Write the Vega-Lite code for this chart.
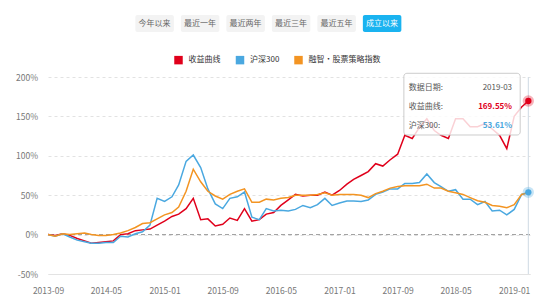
{
  "$schema": "https://vega.github.io/schema/vega-lite/v6.json",
  "padding": {"left": 15, "top": 15, "right": 5, "bottom": 5},
  "background": "#ffffff",
  "bounds": "flush",
  "spacing": 45,
  "config": {
    "view": {"stroke": null},
    "font": "Noto Sans CJK SC",
    "text": {"font": "Noto Sans CJK SC"}
  },
  "vconcat": [
    {
      "width": 357,
      "height": 17,
      "data": {"values": [
        {"b": "今年以来", "on": 0},
        {"b": "最近一年", "on": 0},
        {"b": "最近两年", "on": 0},
        {"b": "最近三年", "on": 0},
        {"b": "最近五年", "on": 0},
        {"b": "成立以来", "on": 1}
      ]},
      "encoding": {
        "x": {"field": "b", "type": "nominal", "sort": null, "axis": null,
              "scale": {"paddingInner": 0.154, "paddingOuter": 1, "align": 0.96}}
      },
      "layer": [
        {"mark": {"type": "rect", "cornerRadius": 2},
         "encoding": {"color": {"field": "on", "type": "nominal",
           "scale": {"domain": [0, 1], "range": ["#f3f3f3", "#1ab3f0"]}, "legend": null}}},
        {"mark": {"type": "text", "fontSize": 8, "baseline": "middle"},
         "encoding": {"text": {"field": "b"}, "color": {"field": "on", "type": "nominal",
           "scale": {"domain": [0, 1], "range": ["#666666", "#ffffff"]}, "legend": null}}}
      ],
      "resolve": {"scale": {"color": "independent"}}
    },
    {
      "width": 482,
      "height": 197,
      "data": {"values": [
        {"d": "2013-09", "r": 0, "h": 0, "z": 0},
        {"d": "2013-10", "r": -1, "h": -2, "z": -2},
        {"d": "2013-11", "r": 1, "h": 1, "z": 1},
        {"d": "2013-12", "r": -1, "h": -3, "z": 0},
        {"d": "2014-01", "r": -5, "h": -7, "z": 1},
        {"d": "2014-02", "r": -8, "h": -9, "z": 2},
        {"d": "2014-03", "r": -11, "h": -11, "z": 0},
        {"d": "2014-04", "r": -10, "h": -11, "z": -1},
        {"d": "2014-05", "r": -9, "h": -10, "z": -1},
        {"d": "2014-06", "r": -8, "h": -10, "z": 0},
        {"d": "2014-07", "r": 0, "h": -2, "z": 2},
        {"d": "2014-08", "r": 1, "h": -3, "z": 5},
        {"d": "2014-09", "r": 5, "h": 1, "z": 9},
        {"d": "2014-10", "r": 6, "h": 3.5, "z": 14},
        {"d": "2014-11", "r": 7, "h": 12, "z": 15},
        {"d": "2014-12", "r": 12, "h": 46, "z": 20},
        {"d": "2015-01", "r": 17, "h": 42, "z": 25},
        {"d": "2015-02", "r": 23, "h": 48, "z": 28},
        {"d": "2015-03", "r": 26, "h": 63, "z": 35},
        {"d": "2015-04", "r": 33, "h": 93, "z": 55},
        {"d": "2015-05", "r": 46, "h": 101, "z": 83},
        {"d": "2015-06", "r": 19, "h": 85, "z": 67},
        {"d": "2015-07", "r": 20, "h": 58, "z": 55},
        {"d": "2015-08", "r": 11, "h": 39, "z": 49},
        {"d": "2015-09", "r": 13, "h": 33, "z": 45},
        {"d": "2015-10", "r": 21, "h": 46, "z": 51},
        {"d": "2015-11", "r": 18, "h": 48, "z": 55},
        {"d": "2015-12", "r": 33, "h": 54, "z": 58},
        {"d": "2016-01", "r": 17, "h": 22, "z": 41},
        {"d": "2016-02", "r": 19, "h": 19, "z": 41},
        {"d": "2016-03", "r": 26, "h": 33, "z": 45},
        {"d": "2016-04", "r": 28, "h": 30, "z": 44},
        {"d": "2016-05", "r": 37, "h": 31, "z": 46},
        {"d": "2016-06", "r": 44, "h": 30, "z": 47},
        {"d": "2016-07", "r": 51, "h": 32, "z": 50},
        {"d": "2016-08", "r": 49, "h": 37, "z": 50},
        {"d": "2016-09", "r": 50, "h": 34, "z": 50},
        {"d": "2016-10", "r": 50, "h": 38, "z": 51},
        {"d": "2016-11", "r": 54, "h": 46, "z": 53},
        {"d": "2016-12", "r": 50, "h": 37, "z": 50},
        {"d": "2017-01", "r": 56, "h": 40, "z": 51},
        {"d": "2017-02", "r": 64, "h": 42.5, "z": 51},
        {"d": "2017-03", "r": 70, "h": 42.6, "z": 51},
        {"d": "2017-04", "r": 75, "h": 42, "z": 50},
        {"d": "2017-05", "r": 80, "h": 44, "z": 47},
        {"d": "2017-06", "r": 90, "h": 51, "z": 52},
        {"d": "2017-07", "r": 87, "h": 54, "z": 55},
        {"d": "2017-08", "r": 95, "h": 58, "z": 59},
        {"d": "2017-09", "r": 102, "h": 58, "z": 61},
        {"d": "2017-10", "r": 126, "h": 65, "z": 62},
        {"d": "2017-11", "r": 122, "h": 65, "z": 62},
        {"d": "2017-12", "r": 136, "h": 66, "z": 62},
        {"d": "2018-01", "r": 147, "h": 77, "z": 64},
        {"d": "2018-02", "r": 132, "h": 66, "z": 59},
        {"d": "2018-03", "r": 126, "h": 61, "z": 59},
        {"d": "2018-04", "r": 122, "h": 55, "z": 55},
        {"d": "2018-05", "r": 147, "h": 57, "z": 53},
        {"d": "2018-06", "r": 147, "h": 45, "z": 51},
        {"d": "2018-07", "r": 137, "h": 45, "z": 47},
        {"d": "2018-08", "r": 137, "h": 38, "z": 43},
        {"d": "2018-09", "r": 141, "h": 42, "z": 41},
        {"d": "2018-10", "r": 134, "h": 30, "z": 37},
        {"d": "2018-11", "r": 126, "h": 31, "z": 36},
        {"d": "2018-12", "r": 109, "h": 25, "z": 34},
        {"d": "2019-01", "r": 150, "h": 32, "z": 38},
        {"d": "2019-02", "r": 162, "h": 51, "z": 51},
        {"d": "2019-03", "r": 169.55, "h": 53.61, "z": 53}
      ]},
      "layer": [
        {
          "data": {"values": [{}]},
          "mark": {"type": "rule", "color": "#9a9a9a", "strokeDash": [4, 3], "strokeWidth": 1},
          "encoding": {"y": {"datum": 0, "type": "quantitative"}}
        },
        {
          "transform": [{"fold": ["r", "h", "z"], "as": ["s", "v"]}],
          "mark": {"type": "line", "strokeWidth": 1.5},
          "encoding": {
            "x": {"field": "d", "type": "temporal",
              "scale": {"domain": [{"year": 2013, "month": 9, "date": 1}, {"year": 2019, "month": 3, "date": 8}]},
              "axis": {"title": null, "values": [
                {"year": 2013, "month": 9, "date": 1}, {"year": 2014, "month": 5, "date": 1},
                {"year": 2015, "month": 1, "date": 1}, {"year": 2015, "month": 9, "date": 1},
                {"year": 2016, "month": 5, "date": 1}, {"year": 2017, "month": 1, "date": 1},
                {"year": 2017, "month": 9, "date": 1}, {"year": 2018, "month": 5, "date": 1},
                {"year": 2019, "month": 1, "date": 1}],
                "tickCount": 20,
                "format": "%Y-%m", "grid": false, "ticks": false, "tickSize": 0,
                "domainColor": "#e3e3e3", "labelPadding": 12.5, "labelFontSize": 8.5,
                "labelColor": "#777777", "labelFlush": false, "labelOverlap": false}},
            "y": {"field": "v", "type": "quantitative",
              "scale": {"domain": [-50, 200], "nice": false},
              "axis": {"title": null, "values": [-50, 0, 50, 100, 150, 200], "tickCount": 10,
                "labelExpr": "datum.value + '%'", "grid": true, "gridDash": [3, 3],
                "gridColor": "#e2e2e2", "domain": false, "ticks": false, "tickSize": 0,
                "labelOverlap": false,
                "labelPadding": 10.5, "labelFontSize": 8.5, "labelColor": "#777777"}},
            "color": {"field": "s", "type": "nominal", "sort": null,
              "scale": {"domain": ["r", "h", "z"], "range": ["#e0001b", "#4aa8e0", "#f39422"]},
              "legend": {"orient": "none", "legendX": 126, "legendY": 40.5, "direction": "horizontal",
                "title": null, "symbolType": "square", "symbolSize": 72, "symbolStrokeWidth": 0,
                "labelFontSize": 8, "labelColor": "#333333", "columnPadding": 14.5, "labelOffset": 5.5,
                "padding": 0,
                "labelExpr": "{'r': '收益曲线', 'h': '沪深300', 'z': '融智·股票策略指数'}[datum.label]",
                "encode": {"symbols": {"update": {"fill": {"scale": "color", "field": "value"}, "opacity": {"value": 1}}}}}}
          }
        },
        {
          "data": {"values": [{}]},
          "mark": {"type": "rule", "color": "#cfd9e3", "strokeWidth": 1},
          "encoding": {"x": {"datum": {"year": 2019, "month": 3, "date": 1}, "type": "temporal"}}
        },
        {
          "data": {"values": [{}]},
          "mark": {"type": "rect", "fill": "#ffffff", "fillOpacity": 0.82, "stroke": "#cccccc", "strokeWidth": 1, "cornerRadius": 3},
          "encoding": {
            "x": {"datum": {"year": 2017, "month": 9, "date": 27}, "type": "temporal"},
            "x2": {"datum": {"year": 2019, "month": 1, "date": 26}},
            "y": {"datum": 204.7, "type": "quantitative"},
            "y2": {"datum": 126.4}
          }
        },
        {
          "data": {"values": [{}]},
          "mark": {"type": "text", "text": "数据日期:", "align": "left", "baseline": "middle", "fontSize": 8, "color": "#555555"},
          "encoding": {"x": {"datum": {"year": 2017, "month": 10, "date": 17}, "type": "temporal"}, "y": {"datum": 185.7, "type": "quantitative"}}
        },
        {
          "data": {"values": [{}]},
          "mark": {"type": "text", "text": "收益曲线:", "align": "left", "baseline": "middle", "fontSize": 8, "color": "#555555"},
          "encoding": {"x": {"datum": {"year": 2017, "month": 10, "date": 17}, "type": "temporal"}, "y": {"datum": 161.5, "type": "quantitative"}}
        },
        {
          "data": {"values": [{}]},
          "mark": {"type": "text", "text": "沪深300:", "align": "left", "baseline": "middle", "fontSize": 8, "color": "#555555"},
          "encoding": {"x": {"datum": {"year": 2017, "month": 10, "date": 17}, "type": "temporal"}, "y": {"datum": 137.8, "type": "quantitative"}}
        },
        {
          "data": {"values": [{}]},
          "mark": {"type": "text", "text": "2019-03", "align": "right", "baseline": "middle", "fontSize": 8, "color": "#555555"},
          "encoding": {"x": {"datum": {"year": 2018, "month": 12, "date": 23}, "type": "temporal"}, "y": {"datum": 185.7, "type": "quantitative"}}
        },
        {
          "data": {"values": [{}]},
          "mark": {"type": "text", "text": "169.55%", "align": "right", "baseline": "middle", "fontSize": 8, "fontWeight": "bold", "color": "#e0001b"},
          "encoding": {"x": {"datum": {"year": 2018, "month": 12, "date": 23}, "type": "temporal"}, "y": {"datum": 161.5, "type": "quantitative"}}
        },
        {
          "data": {"values": [{}]},
          "mark": {"type": "text", "text": "53.61%", "align": "right", "baseline": "middle", "fontSize": 8, "fontWeight": "bold", "color": "#4aa8e0"},
          "encoding": {"x": {"datum": {"year": 2018, "month": 12, "date": 23}, "type": "temporal"}, "y": {"datum": 137.8, "type": "quantitative"}}
        },
        {
          "transform": [{"filter": {"timeUnit": "yearmonth", "field": "d", "equal": {"year": 2019, "month": 3}}}],
          "mark": {"type": "circle", "size": 40, "fill": "#e0001b", "stroke": "#e0001b", "strokeWidth": 5, "strokeOpacity": 0.3, "opacity": 1},
          "encoding": {"x": {"field": "d", "type": "temporal"}, "y": {"field": "r", "type": "quantitative"}}
        },
        {
          "transform": [{"filter": {"timeUnit": "yearmonth", "field": "d", "equal": {"year": 2019, "month": 3}}}],
          "mark": {"type": "circle", "size": 40, "fill": "#4aa8e0", "stroke": "#4aa8e0", "strokeWidth": 5, "strokeOpacity": 0.3, "opacity": 1},
          "encoding": {"x": {"field": "d", "type": "temporal"}, "y": {"field": "h", "type": "quantitative"}}
        }
      ]
    }
  ]
}
